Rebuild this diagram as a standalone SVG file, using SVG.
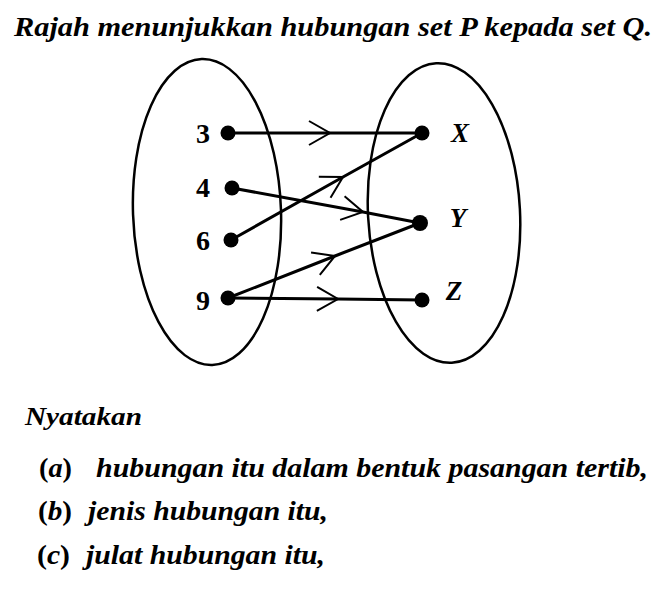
<svg xmlns="http://www.w3.org/2000/svg" width="671" height="589" viewBox="0 0 671 589">
<style>
.t{font-family:"Liberation Serif","Times New Roman",serif;font-style:italic;font-weight:bold;fill:#000}
.lab{font-family:"Liberation Serif","Times New Roman",serif;font-style:normal;font-weight:bold;fill:#000}
.i{font-style:italic}
.n{font-family:"Liberation Serif","Times New Roman",serif;font-weight:bold;font-size:28px;fill:#000;text-anchor:middle}
.v{font-family:"Liberation Serif","Times New Roman",serif;font-style:italic;font-weight:bold;font-size:27px;fill:#000;text-anchor:middle}
.set{fill:none;stroke:#000;stroke-width:2.5}
.dot{fill:#000}
.edge{fill:none;stroke:#000;stroke-width:3;marker-mid:url(#chev)}
</style>
<defs>
<marker id="chev" markerUnits="userSpaceOnUse" viewBox="-24 -15 26 30" refX="0" refY="0" markerWidth="26" markerHeight="30" orient="auto">
<path d="M-21,-12 L0,0 L-21,12" fill="none" stroke="#000" stroke-width="2"/>
</marker>
</defs>
<rect width="671" height="589" fill="#fff"/>
<text class="t" x="14" y="36" font-size="27" textLength="638" lengthAdjust="spacingAndGlyphs">Rajah  menunjukkan hubungan set P kepada set Q.</text>
<g id="setP"><ellipse class="set" cx="207" cy="212" rx="74" ry="153" transform="rotate(-2 207 212)"/></g>
<g id="setQ"><ellipse class="set" cx="444" cy="213" rx="76" ry="150" transform="rotate(-3 444 213)"/></g>
<g id="connectors">
<path class="edge" d="M228,133 L330,133 L422,133"/>
<path class="edge" d="M232,188 L363,212 L420,223"/>
<path class="edge" d="M231,240 L343,177 L422,133"/>
<path class="edge" d="M228,298 L335,256 L420,223"/>
<path class="edge" d="M228,298 L338,299 L422,300"/>
</g>
<g id="p3"><circle class="dot" cx="228" cy="133" r="7.5"/><text class="n" x="203" y="143">3</text></g>
<g id="p4"><circle class="dot" cx="232" cy="188" r="7.5"/><text class="n" x="203" y="197">4</text></g>
<g id="p6"><circle class="dot" cx="231" cy="240" r="7.5"/><text class="n" x="203" y="250">6</text></g>
<g id="p9"><circle class="dot" cx="228" cy="298" r="7.5"/><text class="n" x="203" y="310">9</text></g>
<g id="qX"><circle class="dot" cx="422" cy="133" r="7.5"/><text class="v" x="460" y="142">X</text></g>
<g id="qY"><circle class="dot" cx="420" cy="223" r="8"/><text class="v" x="458" y="227">Y</text></g>
<g id="qZ"><circle class="dot" cx="422" cy="300" r="7.5"/><text class="v" x="454" y="300">Z</text></g>
<text class="t" x="25" y="425" font-size="26" textLength="117" lengthAdjust="spacingAndGlyphs">Nyatakan</text>
<text class="lab" x="39" y="477" font-size="27" textLength="33" lengthAdjust="spacingAndGlyphs">(<tspan class="i">a</tspan>)</text>
<text class="t" x="96" y="477" font-size="27" textLength="552" lengthAdjust="spacingAndGlyphs">hubungan itu dalam bentuk pasangan tertib,</text>
<text class="lab" x="38" y="520" font-size="27" textLength="34" lengthAdjust="spacingAndGlyphs">(<tspan class="i">b</tspan>)</text>
<text class="t" x="88" y="520" font-size="27" textLength="240" lengthAdjust="spacingAndGlyphs">jenis hubungan itu,</text>
<text class="lab" x="37" y="564" font-size="27" textLength="33" lengthAdjust="spacingAndGlyphs">(<tspan class="i">c</tspan>)</text>
<text class="t" x="86" y="564" font-size="27" textLength="239" lengthAdjust="spacingAndGlyphs">julat hubungan itu,</text>
</svg>
